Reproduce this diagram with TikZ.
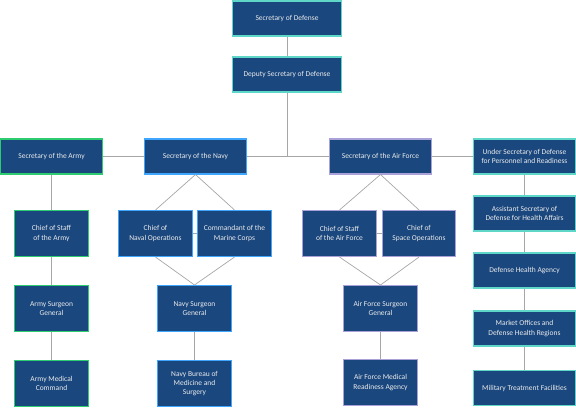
\documentclass[tikz,border=0pt]{standalone}
\usepackage{fontspec}
\setmainfont{Carlito}
\definecolor{boxfill}{HTML}{1A477E}
\definecolor{teal}{HTML}{5ED6C8}
\definecolor{army}{HTML}{2ECC71}
\definecolor{navy}{HTML}{3EA6FF}
\definecolor{airforce}{HTML}{A9A2D8}
\definecolor{link}{HTML}{A6A6A6}
\begin{document}
\begin{tikzpicture}[x=0.03cm, y=-0.03cm]
            \tikzstyle{every node}=[rectangle, fill=boxfill, line width=0.9pt, inner sep=1pt, align=center, font=\fontsize{6.4}{7.8}\selectfont, text=white!92!black]
            \tikzstyle{wide}=[minimum width=3.05cm, minimum height=1.05cm]
            \tikzstyle{tall}=[minimum width=2.2cm, minimum height=1.38cm]
            \tikzstyle{edge}=[link, line width=0.6pt]
            \useasboundingbox (0,0) rectangle (576,407);

            % top of the chart
            \node[wide, draw=teal, minimum width=3.25cm] (sd) at (287,18.5) {Secretary of Defense};
            \node[wide, draw=teal, minimum width=3.25cm] (dsd) at (287,74.5) {Deputy Secretary of Defense};
            \coordinate (hub) at (287,156.5);

            % secretaries
            \node[wide, draw=army] (sa) at (51.5,156.5) {Secretary of the Army};
            \node[wide, draw=navy] (sn) at (195.5,156.5) {Secretary of the Navy};
            \node[wide, draw=airforce] (saf) at (380.5,156.5) {Secretary of the Air Force};
            \node[wide, draw=teal] (usd) at (524.5,156.5) {Under Secretary of Defense\\for Personnel and Readiness};

            % army
            \node[tall, draw=army] (csa) at (51.5,233.5) {Chief of Staff\\of the Army};
            \node[tall, draw=army] (asg) at (51.5,308.5) {Army Surgeon\\General};
            \node[tall, draw=army] (amc) at (51.5,383.5) {Army Medical\\Command};

            % navy
            \node[tall, draw=navy] (cno) at (155.5,233.5) {Chief of\\Naval Operations};
            \node[tall, draw=navy] (cmc) at (234.5,233.5) {Commandant of the\\Marine Corps};
            \node[tall, draw=navy] (nsg) at (194.5,308.5) {Navy Surgeon\\General};
            \node[tall, draw=navy] (bumed) at (194.5,383.5) {Navy Bureau of\\Medicine and\\Surgery};

            % air force
            \node[tall, draw=airforce] (csaf) at (339.5,233.5) {Chief of Staff\\of the Air Force};
            \node[tall, draw=airforce] (cso) at (419,233.5) {Chief of\\Space Operations};
            \node[tall, draw=airforce] (afsg) at (380.5,308.5) {Air Force Surgeon\\General};
            \node[tall, draw=airforce] (afmra) at (380.5,382.5) {Air Force Medical\\Readiness Agency};

            % health chain
            \node[wide, draw=teal] (asd) at (524.5,213.5) {Assistant Secretary of\\Defense for Health Affairs};
            \node[wide, draw=teal] (dha) at (524.5,270.5) {Defense Health Agency};
            \node[wide, draw=teal] (mo) at (524.5,328.5) {Market Offices and\\Defense Health Regions};
            \node[wide, draw=teal] (mtf) at (524.5,388) {Military Treatment Facilities};

            \draw[edge] (sd) -- (dsd) -- (hub);
            \draw[edge] (sa) -- (sn) -- (saf) -- (usd);
            \draw[edge] (sa) -- (csa) -- (asg) -- (amc);
            \draw[edge] (sn.south) -- (cno.north);
            \draw[edge] (sn.south) -- (cmc.north);
            \draw[edge] (cno) -- (cmc);
            \draw[edge] (cno.south) -- (nsg.north);
            \draw[edge] (cmc.south) -- (nsg.north);
            \draw[edge] (nsg) -- (bumed);
            \draw[edge] (saf.south) -- (csaf.north);
            \draw[edge] (saf.south) -- (cso.north);
            \draw[edge] (csaf) -- (cso);
            \draw[edge] (csaf.south) -- (afsg.north);
            \draw[edge] (cso.south) -- (afsg.north);
            \draw[edge] (afsg) -- (afmra);
            \draw[edge] (usd) -- (asd) -- (dha) -- (mo) -- (mtf);
\end{tikzpicture}
\end{document}
